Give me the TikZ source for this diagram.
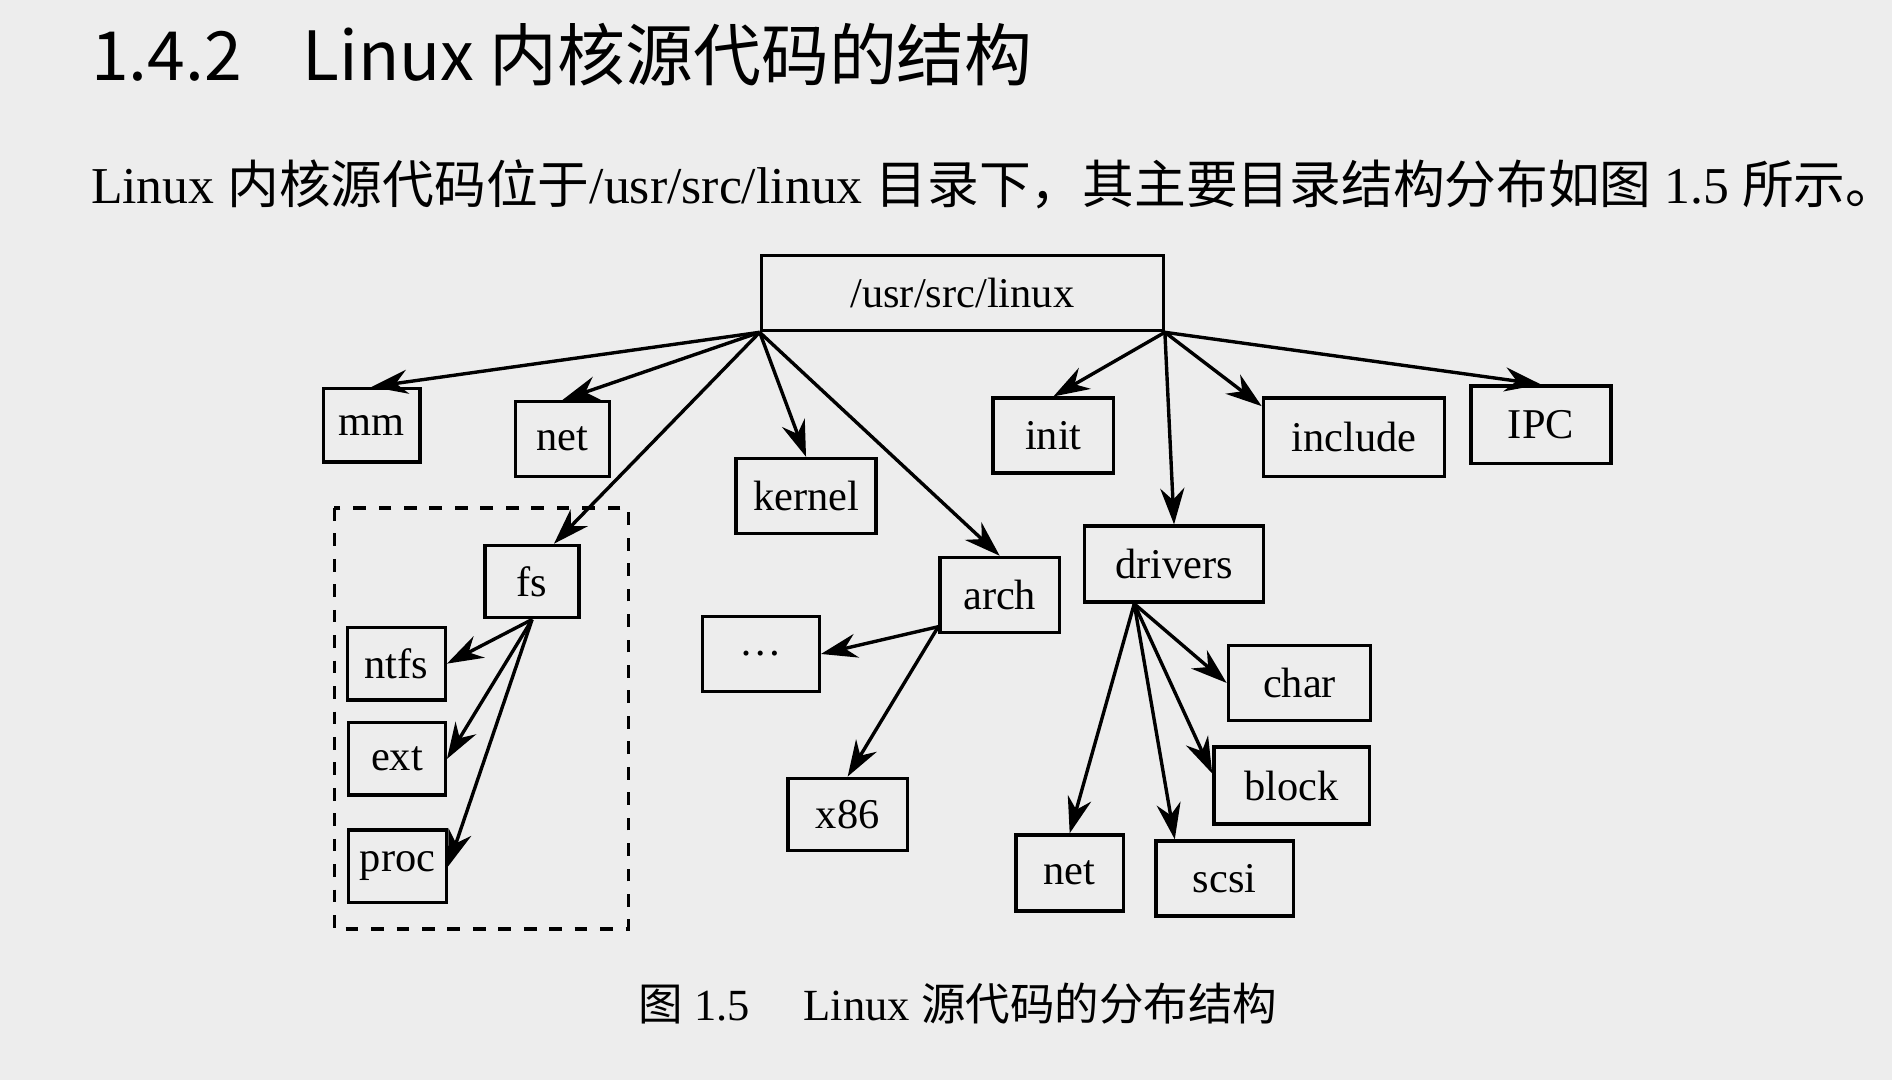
\documentclass[tikz,border=0pt]{standalone}
\usepackage{fontspec}
\setmainfont{Liberation Serif}
\newfontfamily\cjk{Noto Sans CJK SC}
\usetikzlibrary{arrows.meta}
\tikzset{
 bx/.style={draw,thick,rectangle,inner sep=0pt,font=\fontsize{10}{12}\selectfont},
 ar/.style={thick,-{Stealth[length=3mm,width=2mm]}}
}
\begin{document}
\begin{tikzpicture}[x=0.1mm,y=-0.1mm]
\fill[gray!14] (0,0) rectangle (1568,895);
\useasboundingbox (0,0) rectangle (1568,895);
\node[anchor=west,font=\cjk\fontsize{16}{18}\selectfont] (title) at (63,45) {1.4.2\hspace{0.9em}Linux 内核源代码的结构};
\node[anchor=west,font=\fontsize{12.2}{14}\selectfont] (para) at (63,153) {Linux {\cjk 内核源代码位于}/usr/src/linux {\cjk 目录下，其主要目录结构分布如图} 1.5 {\cjk 所示。}};
\node[font=\fontsize{10.5}{12}\selectfont] (cap) at (794,832) {{\cjk 图} 1.5\hspace{1.2em}Linux {\cjk 源代码的分布结构}};
\draw[thick,dashed] (277,421) rectangle (521,770);
\node[bx,minimum width=33.3mm,minimum height=6.2mm] (root) at (797.5,243) {/usr/src/linux};
\node[bx,minimum width=8mm,minimum height=6.1mm] (mm) at (308,352.5) {mm};
\node[bx,minimum width=7.8mm,minimum height=6.2mm] (net) at (466,364) {net};
\node[bx,minimum width=11.6mm,minimum height=6.2mm] (kernel) at (668,411) {kernel};
\node[bx,minimum width=10mm,minimum height=6.2mm] (init) at (873,361) {init};
\node[bx,minimum width=15mm,minimum height=6.5mm] (include) at (1122,362.5) {include};
\node[bx,minimum width=11.6mm,minimum height=6.4mm] (ipc) at (1277,352) {IPC};
\node[bx,minimum width=7.8mm,minimum height=6mm] (fs) at (441,482) {fs};
\node[bx,minimum width=8.1mm,minimum height=6mm] (ntfs) at (328.5,550) {ntfs};
\node[bx,minimum width=8mm,minimum height=6mm] (ext) at (329,629) {ext};
\node[bx,minimum width=8.1mm,minimum height=6mm] (proc) at (329.5,718) {proc};
\node[bx,minimum width=9.9mm,minimum height=6.2mm] (arch) at (828.5,493) {arch};
\node[bx,minimum width=9.7mm,minimum height=6.2mm] (dots) at (630.5,542) {\dots};
\node[bx,minimum width=9.9mm,minimum height=6mm] (x86) at (702.5,675) {x86};
\node[bx,minimum width=14.8mm,minimum height=6.3mm] (drivers) at (973,467.5) {drivers};
\node[bx,minimum width=11.8mm,minimum height=6.2mm] (char) at (1077,566) {char};
\node[bx,minimum width=12.9mm,minimum height=6.4mm] (block) at (1070.5,651) {block};
\node[bx,minimum width=8.9mm,minimum height=6.3mm] (net2) at (886.5,723.5) {net};
\node[bx,minimum width=11.4mm,minimum height=6.2mm] (scsi) at (1015,728) {scsi};
\coordinate (dsrc) at ([xshift=-3.3mm]drivers.south);
\coordinate (asrc) at ([yshift=0.6mm]arch.south west);
\draw[ar] (root.south west) -- (mm.north);
\draw[ar] (root.south west) -- (net.north);
\draw[ar] (root.south west) -- (fs.60);
\draw[ar] (root.south west) -- (kernel.north);
\draw[ar] (root.south west) -- (arch.north);
\draw[ar] (root.south east) -- (init.north);
\draw[ar] (root.south east) -- (drivers.north);
\draw[ar] (root.south east) -- ([yshift=-0.8mm]include.north west);
\draw[ar] (root.south east) -- (ipc.north);
\draw[ar] (fs.south) -- (ntfs.east);
\draw[ar] (fs.south) -- (ext.east);
\draw[ar] (fs.south) -- (proc.east);
\draw[ar] (asrc) -- (dots.east);
\draw[ar] (asrc) -- (x86.north);
\draw[ar] (dsrc) -- (char.west);
\draw[ar] (dsrc) -- ([yshift=1mm]block.west);
\draw[ar] (dsrc) -- (net2.north);
\draw[ar] (dsrc) -- ([xshift=1.7mm]scsi.north west);
\end{tikzpicture}
\end{document}
